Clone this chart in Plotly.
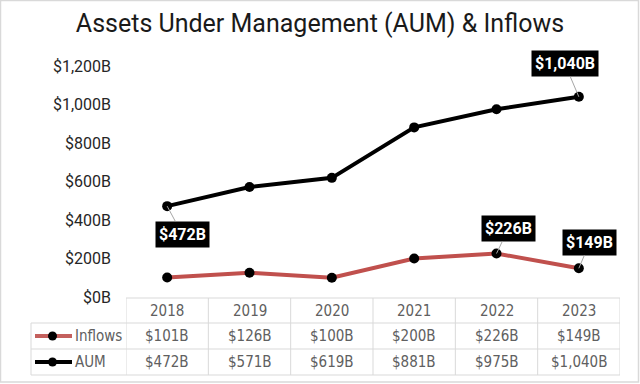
import plotly.graph_objects as go

years = [2018, 2019, 2020, 2021, 2022, 2023]
aum = [472, 571, 619, 881, 975, 1040]
inflows = [101, 126, 100, 200, 226, 149]
aum_text = ["$472B", "$571B", "$619B", "$881B", "$975B", "$1,040B"]
inflow_text = ["$101B", "$126B", "$100B", "$200B", "$226B", "$149B"]
ytick_vals = [0, 200, 400, 600, 800, 1000, 1200]
ytick_text = ["$0B", "$200B", "$400B", "$600B", "$800B", "$1,000B", "$1,200B"]
series_names = ["Inflows", "AUM"]

W, H = 640, 384
L, R, T, B = 126, 20, 66, 87
PW, PH = W - L - R, H - T - B


def px(x):
    return (x - L) / PW


def py(y):
    return (H - B - y) / PH


RED = "#C0504D"
GRID = "#d9d9d9"
TXT = "#606060"
TFONT = "Liberation Sans Narrow, DejaVu Sans Condensed"

fig = go.Figure()
fig.add_trace(go.Scatter(x=years, y=inflows, mode="lines+markers", name="Inflows",
                         line=dict(color=RED, width=4),
                         marker=dict(color="black", size=10)))
fig.add_trace(go.Scatter(x=years, y=aum, mode="lines+markers", name="AUM",
                         line=dict(color="black", width=4),
                         marker=dict(color="black", size=10)))

annotations = []
shapes = []

# data labels (black boxes)
callouts = [
    (years[0], aum[0], aum_text[0], 15, 28),
    (years[5], aum[5], aum_text[5], -14, -33),
    (years[4], inflows[4], inflow_text[4], 12, -25),
    (years[5], inflows[5], inflow_text[5], 11, -26),
]
for x, y, t, ax, ay in callouts:
    annotations.append(dict(x=x, y=y, xref="x", yref="y", text=t, showarrow=True,
                            arrowhead=0, arrowwidth=1, arrowcolor="#a6a6a6",
                            ax=ax, ay=ay, bgcolor="black", borderpad=3,
                            font=dict(family="Roboto", size=16, color="white", weight="bold")))

# data table
row_y = [311, 336, 362]
for i, yr in enumerate(years):
    for txt, ry in [(str(yr), row_y[0]), (inflow_text[i], row_y[1]), (aum_text[i], row_y[2])]:
        annotations.append(dict(x=yr, y=py(ry), xref="x", yref="paper", text=txt,
                                xanchor="center", yanchor="middle", showarrow=False,
                                font=dict(family=TFONT, size=15, color=TXT)))

# legend keys in the table
for name, col, ry in [(series_names[0], "#C4605D", row_y[1]), (series_names[1], "black", row_y[2])]:
    shapes.append(dict(type="line", xref="paper", yref="paper", x0=px(35), x1=px(72),
                       y0=py(ry), y1=py(ry), line=dict(color=col, width=4)))
    shapes.append(dict(type="circle", xref="paper", yref="paper", x0=px(48), x1=px(57),
                       y0=py(ry + 4.5), y1=py(ry - 4.5), fillcolor="black", line=dict(width=0)))
    annotations.append(dict(x=px(73), y=py(ry), xref="paper", yref="paper", text=name,
                            xanchor="left", yanchor="middle", showarrow=False,
                            font=dict(family=TFONT, size=15, color=TXT)))

# table grid lines
shapes.append(dict(type="line", xref="paper", yref="paper", x0=0, x1=1, y0=py(298), y1=py(298),
                   line=dict(color=GRID, width=1)))
for yy in [323, 349, 375]:
    shapes.append(dict(type="line", xref="paper", yref="paper", x0=px(31), x1=1, y0=py(yy), y1=py(yy),
                       line=dict(color=GRID, width=1)))
col_edges = [years[0] - 0.5 + k for k in range(len(years) + 1)]
for ce in col_edges:
    shapes.append(dict(type="line", xref="x", yref="paper", x0=ce, x1=ce, y0=py(298), y1=py(375),
                       line=dict(color=GRID, width=1)))
shapes.append(dict(type="line", xref="paper", yref="paper", x0=px(31), x1=px(31), y0=py(323), y1=py(375),
                   line=dict(color=GRID, width=1)))
# outer border
shapes.append(dict(type="rect", xref="paper", yref="paper", x0=px(0.5), x1=px(638.5),
                   y0=py(382), y1=py(0.5), line=dict(color="#d9d9d9", width=1.5)))

fig.update_layout(
    width=W, height=H,
    margin=dict(l=L, r=R, t=T, b=B),
    paper_bgcolor="white", plot_bgcolor="white",
    showlegend=False,
    title=dict(text="Assets Under Management (AUM) & Inflows", x=0.5, xanchor="center",
               y=1 - 23 / H, yanchor="middle",
               font=dict(family="Roboto", size=25, color="#1a1a1a")),
    xaxis=dict(type="linear", range=[years[0] - 0.5, years[-1] + 0.5], showticklabels=False,
               showgrid=False, zeroline=False, showline=False),
    yaxis=dict(range=[0, 1200], tickvals=ytick_vals, ticktext=ytick_text, showgrid=False,
               zeroline=False, showline=False, ticklabelstandoff=14,
               tickfont=dict(family="Roboto", size=16, color="#262626")),
    annotations=annotations, shapes=shapes,
)

fig.write_html("out.html", config={"displayModeBar": False},
               post_script="document.body.style.margin='0';")
